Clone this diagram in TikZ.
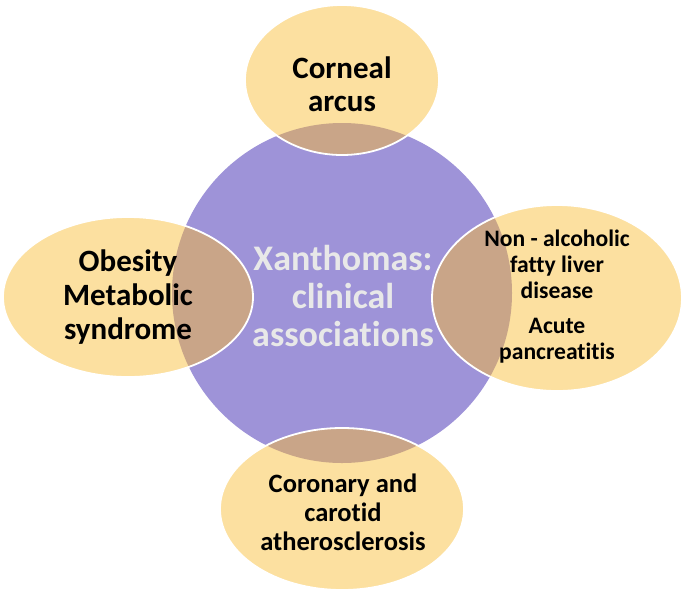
\documentclass[tikz,border=0pt]{standalone}
\usepackage{fontspec}
\setmainfont[Ligatures=NoCommon]{Carlito}
\usetikzlibrary{shapes.geometric}
\definecolor{purp}{HTML}{9E93D8}
\definecolor{yel}{HTML}{FCE0A0}
\definecolor{brn}{HTML}{C9A588}
\definecolor{txtgrey}{HTML}{E8E8E8}
\begin{document}
\begin{tikzpicture}[x=1pt,y=-1pt,
  hubstyle/.style={circle, fill=purp, minimum size=340pt, inner sep=0pt},
  petal/.style={ellipse, fill=yel, inner sep=0pt},
  lbl/.style={align=center, text=black, inner sep=0pt},
  rim/.style={draw=white, line width=1.8pt}]
\useasboundingbox (0,0) rectangle (685,595);
% hub
\node[hubstyle] (hub) at (342,293) {};
% petals
\node[petal, minimum width=194pt, minimum height=150pt] (top) at (342,80) {};
\node[petal, minimum width=250pt, minimum height=160pt] (left) at (128,297) {};
\node[petal, minimum width=250pt, minimum height=186pt] (right) at (557,298) {};
\node[petal, minimum width=244pt, minimum height=162pt] (bottom) at (342,509) {};
% overlaps
\begin{scope}
  \clip (hub.center) circle[radius=170pt];
  \fill[brn] (top.center) ellipse[x radius=97pt, y radius=75pt];
  \fill[brn] (left.center) ellipse[x radius=125pt, y radius=80pt];
  \fill[brn] (right.center) ellipse[x radius=125pt, y radius=93pt];
  \fill[brn] (bottom.center) ellipse[x radius=122pt, y radius=81pt];
\end{scope}
% rims
\draw[rim] (top.center) ellipse[x radius=97pt, y radius=75pt];
\draw[rim] (left.center) ellipse[x radius=125pt, y radius=80pt];
\draw[rim] (right.center) ellipse[x radius=125pt, y radius=93pt];
\draw[rim] (bottom.center) ellipse[x radius=122pt, y radius=81pt];
% labels
\node[lbl, text=txtgrey, font=\bfseries\fontsize{36}{38}\selectfont] (hubtxt) at (343,296) {Xanthomas:\\clinical\\associations};
\node[lbl, font=\bfseries\fontsize{31}{33}\selectfont] (toptxt) at (342,84) {Corneal\\arcus};
\node[lbl, font=\bfseries\fontsize{31}{34}\selectfont] (lefttxt) at (128,297) {Obesity\\Metabolic\\syndrome};
\node[lbl, font=\bfseries\fontsize{23.6}{26}\selectfont] (righttxt) at (557,297) {Non - alcoholic\\fatty liver\\disease\\[9pt]Acute\\pancreatitis};
\node[lbl, font=\bfseries\fontsize{26.5}{29}\selectfont] (bottomtxt) at (343,512) {Coronary and\\carotid\\atherosclerosis};
\end{tikzpicture}
\end{document}
